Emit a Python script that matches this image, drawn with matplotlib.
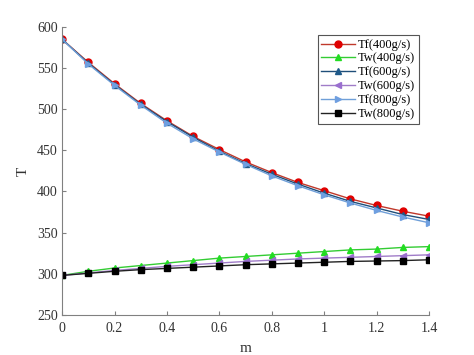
import matplotlib
matplotlib.use("Agg")
import matplotlib.pyplot as plt
import numpy as np

m = [0, 0.1, 0.2, 0.3, 0.4, 0.5, 0.6, 0.7, 0.8, 0.9, 1.0, 1.1, 1.2, 1.3, 1.4]
tf400 = [585, 557, 531, 507, 486, 467, 451, 436, 423, 411, 401, 391, 383, 376, 370]
tw400 = [298, 303, 307, 310, 313, 316, 319, 321, 323, 325, 327, 329, 330, 332, 333]
tf600 = [585, 556, 530, 506, 485, 466, 449, 434, 421, 409, 398, 388, 380, 372, 366]
tw600 = [298, 301, 304, 306.5, 309, 311, 313, 315, 316.5, 318, 319, 320, 321, 322, 323]
tf800 = [585, 555, 529, 505, 483, 464, 448, 433, 419, 407, 396, 386, 377, 369, 362]
tw800 = [298, 300.5, 303, 305, 306.5, 308, 309.5, 311, 312, 313, 314, 315, 315.5, 316, 317]
labels = ["Tf(400g/s)", "Tw(400g/s)", "Tf(600g/s)", "Tw(600g/s)", "Tf(800g/s)", "Tw(800g/s)"]

plt.rcParams['font.family'] = ['Liberation Serif', 'DejaVu Serif']
fig = plt.figure(figsize=(4.74, 3.55), dpi=100)
ax = fig.add_axes([0.131, 0.113, 0.774, 0.811])

styles = [
    (tf400, '#c0392b', '#e00000', 'o'),
    (tw400, '#33cc33', '#22dd22', '^'),
    (tf600, '#1f4e79', '#1f5a8a', '^'),
    (tw600, '#a07cc8', '#9a6fcf', '<'),
    (tf800, '#6f9fd8', '#6f9fe0', '>'),
    (tw800, '#222222', '#000000', 's'),
]
for (y, lc, mc, mk), lab in zip(styles, labels):
    ax.plot(m, y, color=lc, lw=1.0, marker=mk, markersize=5,
            markerfacecolor=mc, markeredgecolor=mc, label=lab)

ax.set_xlim(0, 1.4)
ax.set_ylim(250, 600)
ax.set_xticks([0, 0.2, 0.4, 0.6, 0.8, 1.0, 1.2, 1.4])
ax.set_xticklabels(['0', '0.2', '0.4', '0.6', '0.8', '1', '1.2', '1.4'])
ax.set_yticks(np.arange(250, 601, 50))
ax.spines['top'].set_visible(False)
ax.spines['right'].set_visible(False)
for s in ['left', 'bottom']:
    ax.spines[s].set_color('#808080')
ax.tick_params(direction='in', length=3, color='#808080', labelsize=10, labelcolor='#333333')
ax.tick_params(axis='x', pad=5)
ax.tick_params(axis='y', pad=3)
ax.set_xlabel('m', fontsize=11, color='#333333', labelpad=5)
ax.set_ylabel('T', fontsize=11, color='#333333', labelpad=5)

leg = ax.legend(loc='upper right', bbox_to_anchor=(0.973, 0.973), fontsize=9,
                fancybox=False, framealpha=1, edgecolor='#555555',
                handlelength=2.7, handleheight=0.5, handletextpad=0.25,
                labelspacing=0.15, borderpad=0.3, borderaxespad=0.0)
leg.get_frame().set_linewidth(0.8)

fig.savefig('out.png', dpi=100)
